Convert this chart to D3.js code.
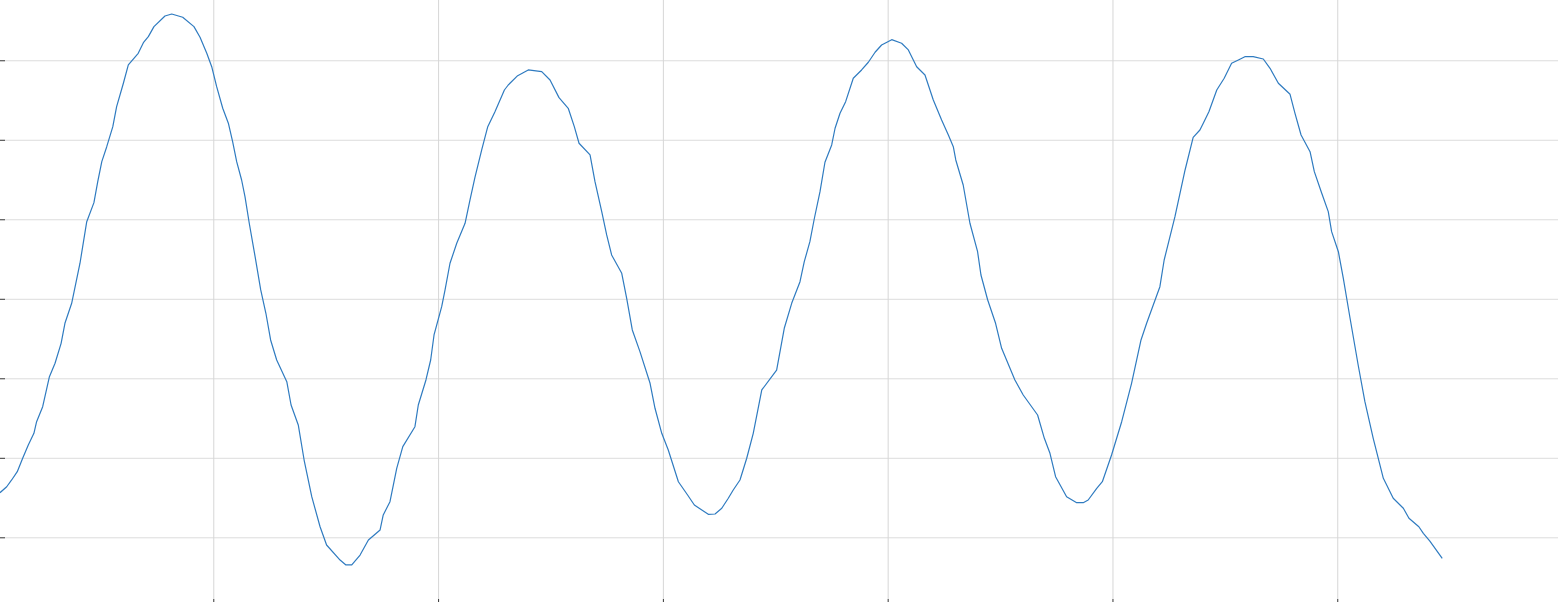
<!DOCTYPE html>
<html>
<head>
<meta charset="utf-8">
<script src="https://cdn.jsdelivr.net/npm/d3@7"></script>
<style>
  html, body { margin: 0; padding: 0; background: #fff; overflow: hidden; }
  svg { display: block; }
</style>
</head>
<body>
<svg id="chart" width="1558" height="602"></svg>
<script>
// ---- data ----
const xValues = [0.051,0.081,0.103,0.128,0.152,0.177,0.202,0.214,0.241,0.271,0.296,0.323,0.340,0.370,0.407,0.437,0.469,0.486,0.504,0.526,0.553,0.570,0.600,0.622,0.666,0.689,0.711,0.736,0.785,0.815,0.864,0.914,0.941,0.971,0.993,1.015,1.042,1.067,1.086,1.104,1.126,1.141,1.160,1.186,1.211,1.234,1.255,1.282,1.327,1.346,1.378,1.404,1.438,1.475,1.504,1.564,1.590,1.616,1.653,1.690,1.742,1.756,1.786,1.816,1.843,1.897,1.912,1.946,1.967,1.982,2.016,2.031,2.053,2.083,2.120,2.142,2.164,2.194,2.221,2.253,2.295,2.312,2.354,2.401,2.461,2.498,2.538,2.579,2.606,2.627,2.676,2.698,2.728,2.750,2.772,2.817,2.839,2.864,2.898,2.943,2.965,2.995,3.024,3.069,3.110,3.140,3.202,3.232,3.262,3.291,3.313,3.343,3.373,3.402,3.440,3.506,3.540,3.573,3.610,3.629,3.654,3.674,3.699,3.721,3.751,3.766,3.788,3.813,3.847,3.884,3.914,3.944,3.973,4.018,4.062,4.092,4.129,4.166,4.203,4.240,4.270,4.292,4.303,4.336,4.366,4.400,4.415,4.445,4.480,4.507,4.566,4.603,4.667,4.697,4.722,4.747,4.796,4.841,4.870,4.892,4.930,4.955,4.996,5.041,5.085,5.127,5.152,5.211,5.230,5.278,5.323,5.359,5.389,5.404,5.429,5.464,5.497,5.530,5.560,5.589,5.626,5.671,5.701,5.738,5.790,5.812,5.839,5.879,5.898,5.931,5.960,5.975,6.005,6.027,6.057,6.093,6.123,6.160,6.205,6.249,6.294,6.319,6.363,6.383,6.412,6.467];
const yValues = [-2.439,-2.364,-2.279,-2.175,-2.006,-1.839,-1.692,-1.546,-1.357,-0.980,-0.811,-0.560,-0.308,-0.057,0.447,0.970,1.209,1.473,1.725,1.913,2.165,2.416,2.711,2.941,3.088,3.221,3.297,3.423,3.557,3.582,3.541,3.423,3.289,3.088,2.919,2.668,2.396,2.208,1.976,1.725,1.494,1.284,0.950,0.530,0.111,-0.182,-0.518,-0.770,-1.043,-1.336,-1.587,-2.028,-2.489,-2.867,-3.097,-3.286,-3.348,-3.348,-3.223,-3.034,-2.908,-2.719,-2.552,-2.132,-1.860,-1.609,-1.336,-1.021,-0.770,-0.455,-0.099,0.111,0.447,0.698,0.950,1.243,1.526,1.872,2.165,2.353,2.626,2.689,2.806,2.878,2.857,2.752,2.530,2.396,2.165,1.956,1.809,1.473,1.096,0.803,0.551,0.321,0.006,-0.392,-0.665,-1.063,-1.377,-1.692,-1.902,-2.301,-2.468,-2.594,-2.711,-2.707,-2.635,-2.509,-2.405,-2.279,-2.006,-1.692,-1.147,-0.896,-0.371,-0.057,0.215,0.467,0.718,1.013,1.347,1.717,1.935,2.145,2.333,2.479,2.774,2.878,2.975,3.101,3.192,3.259,3.214,3.130,2.919,2.815,2.501,2.249,2.060,1.913,1.746,1.431,0.950,0.592,0.299,-0.015,-0.308,-0.623,-1.021,-1.210,-1.462,-1.755,-1.943,-2.238,-2.489,-2.565,-2.565,-2.531,-2.384,-2.301,-1.965,-1.546,-1.063,-0.518,-0.308,0.152,0.488,1.033,1.620,2.031,2.123,2.208,2.353,2.626,2.774,2.962,3.004,3.045,3.045,3.016,2.899,2.711,2.572,2.333,2.060,1.850,1.599,1.327,1.096,0.844,0.592,0.258,-0.245,-0.833,-1.294,-1.755,-2.258,-2.509,-2.635,-2.761,-2.867,-2.950,-3.047,-3.264];
const xTicks = [1, 2, 3, 4, 5, 6];
const yTicks = [-3, -2, -1, 0, 1, 2, 3];
const xDomain = [0.0734, 6.982];
const yDomain = [-3.776, 3.758];

// ---- layout ----
const svg = d3.select("#chart");
const margin = { left: 5, top: 0 };
const W = 1553, H = 599;
const g = svg.append("g").attr("transform", `translate(${margin.left},${margin.top})`);

const x = d3.scaleLinear().domain(xDomain).range([0, W]);
const y = d3.scaleLinear().domain(yDomain).range([H, 0]);

// gridlines
const gy = g.append("g").attr("class", "grid-y")
  .call(d3.axisLeft(y).tickValues(yTicks).tickSize(-W).tickFormat(""));
gy.select(".domain").remove();
gy.selectAll("line").attr("stroke", "#dcdcdc").attr("stroke-width", 1);

const gx = g.append("g").attr("class", "grid-x")
  .attr("transform", `translate(0,${H})`)
  .call(d3.axisBottom(x).tickValues(xTicks).tickSize(-H).tickFormat(""));
gx.select(".domain").remove();
gx.selectAll("line").attr("stroke", "#d6d6d6").attr("stroke-width", 1);

// axis ticks
const ay = g.append("g").call(d3.axisLeft(y).tickValues(yTicks).tickSize(6).tickFormat(""));
ay.select(".domain").remove();
ay.selectAll("line").attr("stroke", "#333");
ay.selectAll("text").remove();

const ax = g.append("g").attr("transform", `translate(0,${H})`)
  .call(d3.axisBottom(x).tickValues(xTicks).tickSize(6).tickFormat(""));
ax.select(".domain").remove();
ax.selectAll("line").attr("stroke", "#333");
ax.selectAll("text").remove();

// line
const data = xValues.map((v, i) => ({ x: v, y: yValues[i] }));
const line = d3.line().x(d => x(d.x)).y(d => y(d.y));
g.append("path")
  .datum(data)
  .attr("fill", "none")
  .attr("stroke", "#2f7bc0")
  .attr("stroke-width", 1.2)
  .attr("stroke-linejoin", "round")
  .attr("d", line);
</script>
</body>
</html>
